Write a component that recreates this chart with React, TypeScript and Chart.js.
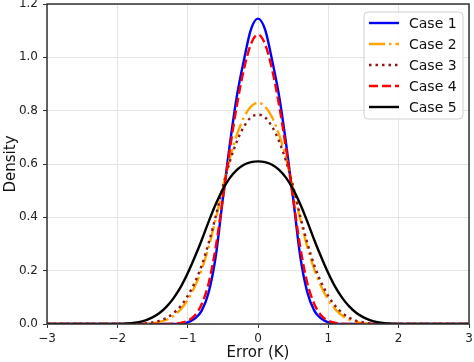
import React, { useEffect, useRef } from "react";
import { Chart, registerables } from "chart.js";

Chart.register(...registerables);

// x positions of the density estimates (Error, K)
const xValues = [
  -3.0, -2.9, -2.8, -2.7, -2.6, -2.5, -2.4, -2.3, -2.2, -2.1,
  -2.0, -1.9, -1.8, -1.7, -1.6, -1.5, -1.4, -1.3, -1.2, -1.1,
  -1.0, -0.9, -0.8, -0.7, -0.6, -0.5, -0.4, -0.3, -0.2, -0.1,
  0.0,
  0.1, 0.2, 0.3, 0.4, 0.5, 0.6, 0.7, 0.8, 0.9, 1.0,
  1.1, 1.2, 1.3, 1.4, 1.5, 1.6, 1.7, 1.8, 1.9, 2.0,
  2.1, 2.2, 2.3, 2.4, 2.5, 2.6, 2.7, 2.8, 2.9, 3.0,
];

const case1 = [
  0, 0, 0, 0, 0, 0, 0, 0, 0, 0,
  0, 0, 0, 0, 0, 0, 0, 0, 0, 0.001,
  0.006, 0.02, 0.05, 0.12, 0.255, 0.47, 0.675, 0.855, 0.99, 1.105,
  1.145,
  1.105, 0.99, 0.855, 0.675, 0.47, 0.255, 0.12, 0.05, 0.02, 0.006,
  0.001, 0, 0, 0, 0, 0, 0, 0, 0, 0,
  0, 0, 0, 0, 0, 0, 0, 0, 0, 0,
];

const case2 = [
  0, 0, 0, 0, 0, 0, 0, 0, 0, 0,
  0, 0, 0, 0, 0.001, 0.003, 0.008, 0.016, 0.031, 0.055,
  0.09, 0.14, 0.205, 0.29, 0.395, 0.51, 0.62, 0.71, 0.775, 0.815,
  0.83,
  0.815, 0.775, 0.71, 0.62, 0.51, 0.395, 0.29, 0.205, 0.14, 0.09,
  0.055, 0.031, 0.016, 0.008, 0.003, 0.001, 0, 0, 0, 0,
  0, 0, 0, 0, 0, 0, 0, 0, 0, 0,
];

const case3 = [
  0, 0, 0, 0, 0, 0, 0, 0, 0, 0,
  0, 0, 0, 0, 0.002, 0.006, 0.012, 0.023, 0.041, 0.067,
  0.105, 0.155, 0.22, 0.305, 0.405, 0.515, 0.61, 0.685, 0.74, 0.775,
  0.785,
  0.775, 0.74, 0.685, 0.61, 0.515, 0.405, 0.305, 0.22, 0.155, 0.105,
  0.067, 0.041, 0.023, 0.012, 0.006, 0.002, 0, 0, 0, 0,
  0, 0, 0, 0, 0, 0, 0, 0, 0, 0,
];

const case4 = [
  0, 0, 0, 0, 0, 0, 0, 0, 0, 0,
  0, 0, 0, 0, 0, 0, 0, 0, 0.001, 0.004,
  0.012, 0.032, 0.075, 0.155, 0.29, 0.47, 0.655, 0.82, 0.955, 1.05,
  1.085,
  1.05, 0.955, 0.82, 0.655, 0.47, 0.29, 0.155, 0.075, 0.032, 0.012,
  0.004, 0.001, 0, 0, 0, 0, 0, 0, 0, 0,
  0, 0, 0, 0, 0, 0, 0, 0, 0, 0,
];

const case5 = [
  0, 0, 0, 0, 0, 0, 0, 0, 0, 0,
  0, 0.001, 0.003, 0.007, 0.014, 0.025, 0.041, 0.065, 0.097, 0.138,
  0.19, 0.25, 0.315, 0.385, 0.45, 0.505, 0.548, 0.578, 0.597, 0.607,
  0.61,
  0.607, 0.597, 0.578, 0.548, 0.505, 0.45, 0.385, 0.315, 0.25, 0.19,
  0.138, 0.097, 0.065, 0.041, 0.025, 0.014, 0.007, 0.003, 0.001, 0,
  0, 0, 0, 0, 0, 0, 0, 0, 0, 0,
];

const seriesNames = ["Case 1", "Case 2", "Case 3", "Case 4", "Case 5"];
const seriesValues = [case1, case2, case3, case4, case5];
const seriesColors = ["#0000ff", "#ffa500", "#8b1a1a", "#ff0000", "#000000"];
const seriesDashes: number[][] = [[], [16, 4, 2.5, 4], [2.5, 4], [9, 4], []];

const xTickValues = [-3, -2, -1, 0, 1, 2, 3];
const yTickValues = [0, 0.2, 0.4, 0.6, 0.8, 1.0, 1.2];

const FONT = "'DejaVu Sans', sans-serif";

const framePlugin = {
  id: "frame",
  afterDatasetsDraw(chart: any) {
    const { ctx, chartArea } = chart;
    ctx.save();
    ctx.strokeStyle = "#333333";
    ctx.lineWidth = 1.5;
    ctx.strokeRect(
      chartArea.left,
      chartArea.top,
      chartArea.right - chartArea.left,
      chartArea.bottom - chartArea.top
    );
    ctx.restore();
  },
};

const legendPlugin = {
  id: "boxLegend",
  afterDraw(chart: any) {
    const { ctx, chartArea } = chart;
    const w = 99;
    const h = 107;
    const x0 = chartArea.right - 6 - w;
    const y0 = chartArea.top + 8;
    const r = 4;
    ctx.save();
    ctx.beginPath();
    ctx.moveTo(x0 + r, y0);
    ctx.lineTo(x0 + w - r, y0);
    ctx.arcTo(x0 + w, y0, x0 + w, y0 + r, r);
    ctx.lineTo(x0 + w, y0 + h - r);
    ctx.arcTo(x0 + w, y0 + h, x0 + w - r, y0 + h, r);
    ctx.lineTo(x0 + r, y0 + h);
    ctx.arcTo(x0, y0 + h, x0, y0 + h - r, r);
    ctx.lineTo(x0, y0 + r);
    ctx.arcTo(x0, y0, x0 + r, y0, r);
    ctx.closePath();
    ctx.fillStyle = "rgba(255,255,255,0.85)";
    ctx.fill();
    ctx.strokeStyle = "#d0d0d0";
    ctx.lineWidth = 1;
    ctx.stroke();

    chart.data.datasets.forEach((ds: any, i: number) => {
      const cy = y0 + 11 + i * 21;
      ctx.beginPath();
      ctx.setLineDash(ds.borderDash || []);
      ctx.strokeStyle = ds.borderColor;
      ctx.lineWidth = ds.borderWidth;
      ctx.moveTo(x0 + 5, cy);
      ctx.lineTo(x0 + 35, cy);
      ctx.stroke();
      ctx.setLineDash([]);
      ctx.fillStyle = "#111111";
      ctx.font = `14px ${FONT}`;
      ctx.textBaseline = "middle";
      ctx.textAlign = "left";
      ctx.fillText(ds.label, x0 + 45, cy + 1);
    });
    ctx.restore();
  },
};

function fmtNum(v: number, digits: number) {
  const s = Math.abs(v).toFixed(digits);
  return v < -1e-9 ? "\u2212" + s : s;
}

export default function App() {
  const canvasRef = useRef<HTMLCanvasElement | null>(null);

  useEffect(() => {
    document.body.style.margin = "0";
    const canvas = canvasRef.current;
    if (!canvas) return;

    const datasets = seriesNames.map((name, i) => ({
      label: name,
      data: xValues.map((x, j) => ({ x, y: seriesValues[i][j] })),
      borderColor: seriesColors[i],
      backgroundColor: seriesColors[i],
      borderDash: seriesDashes[i],
      borderWidth: 2.4,
      pointRadius: 0,
      fill: false,
      cubicInterpolationMode: "monotone" as const,
      order: seriesNames.length - 1 - i,
    }));

    const chart = new Chart(canvas, {
      type: "line",
      data: { datasets },
      options: {
        animation: false,
        responsive: true,
        maintainAspectRatio: false,
        layout: { padding: { top: 4, right: 5, left: 0, bottom: 0 } },
        plugins: {
          legend: { display: false },
          tooltip: { enabled: false },
        },
        scales: {
          x: {
            type: "linear",
            min: -3,
            max: 3,
            afterBuildTicks(scale: any) {
              scale.ticks = xTickValues.map((v) => ({ value: v }));
            },
            afterFit(scale: any) {
              scale.height = 38;
              scale.paddingLeft = 0;
              scale.paddingRight = 0;
            },
            border: { display: false },
            grid: {
              color: "#e4e4e4",
              lineWidth: 1,
              drawTicks: true,
              tickLength: 4,
              tickColor: "#333333",
            },
            ticks: {
              color: "#222222",
              font: { family: FONT, size: 12 },
              padding: 4,
              maxRotation: 0,
              callback: (v: any) => fmtNum(Number(v), 0),
            },
            title: {
              display: true,
              text: "Error (K)",
              color: "#111111",
              font: { family: FONT, size: 15 },
              padding: { top: 0, bottom: 0 },
            },
          },
          y: {
            type: "linear",
            min: 0,
            max: 1.2,
            afterBuildTicks(scale: any) {
              scale.ticks = yTickValues.map((v) => ({ value: v }));
            },
            afterFit(scale: any) {
              scale.width = 47;
              scale.paddingTop = 0;
              scale.paddingBottom = 0;
            },
            border: { display: false },
            grid: {
              color: "#e4e4e4",
              lineWidth: 1,
              drawTicks: true,
              tickLength: 4,
              tickColor: "#333333",
            },
            ticks: {
              color: "#222222",
              font: { family: FONT, size: 12 },
              padding: 5,
              callback: (v: any) => fmtNum(Number(v), 1),
            },
            title: {
              display: true,
              text: "Density",
              color: "#111111",
              font: { family: FONT, size: 15 },
              padding: { top: 2, bottom: 0 },
            },
          },
        },
      },
      plugins: [framePlugin, legendPlugin],
    });

    return () => chart.destroy();
  }, []);

  return (
    <div style={{ position: "absolute", left: 0, top: 0, width: 474, height: 362 }}>
      <canvas ref={canvasRef} />
    </div>
  );
}
